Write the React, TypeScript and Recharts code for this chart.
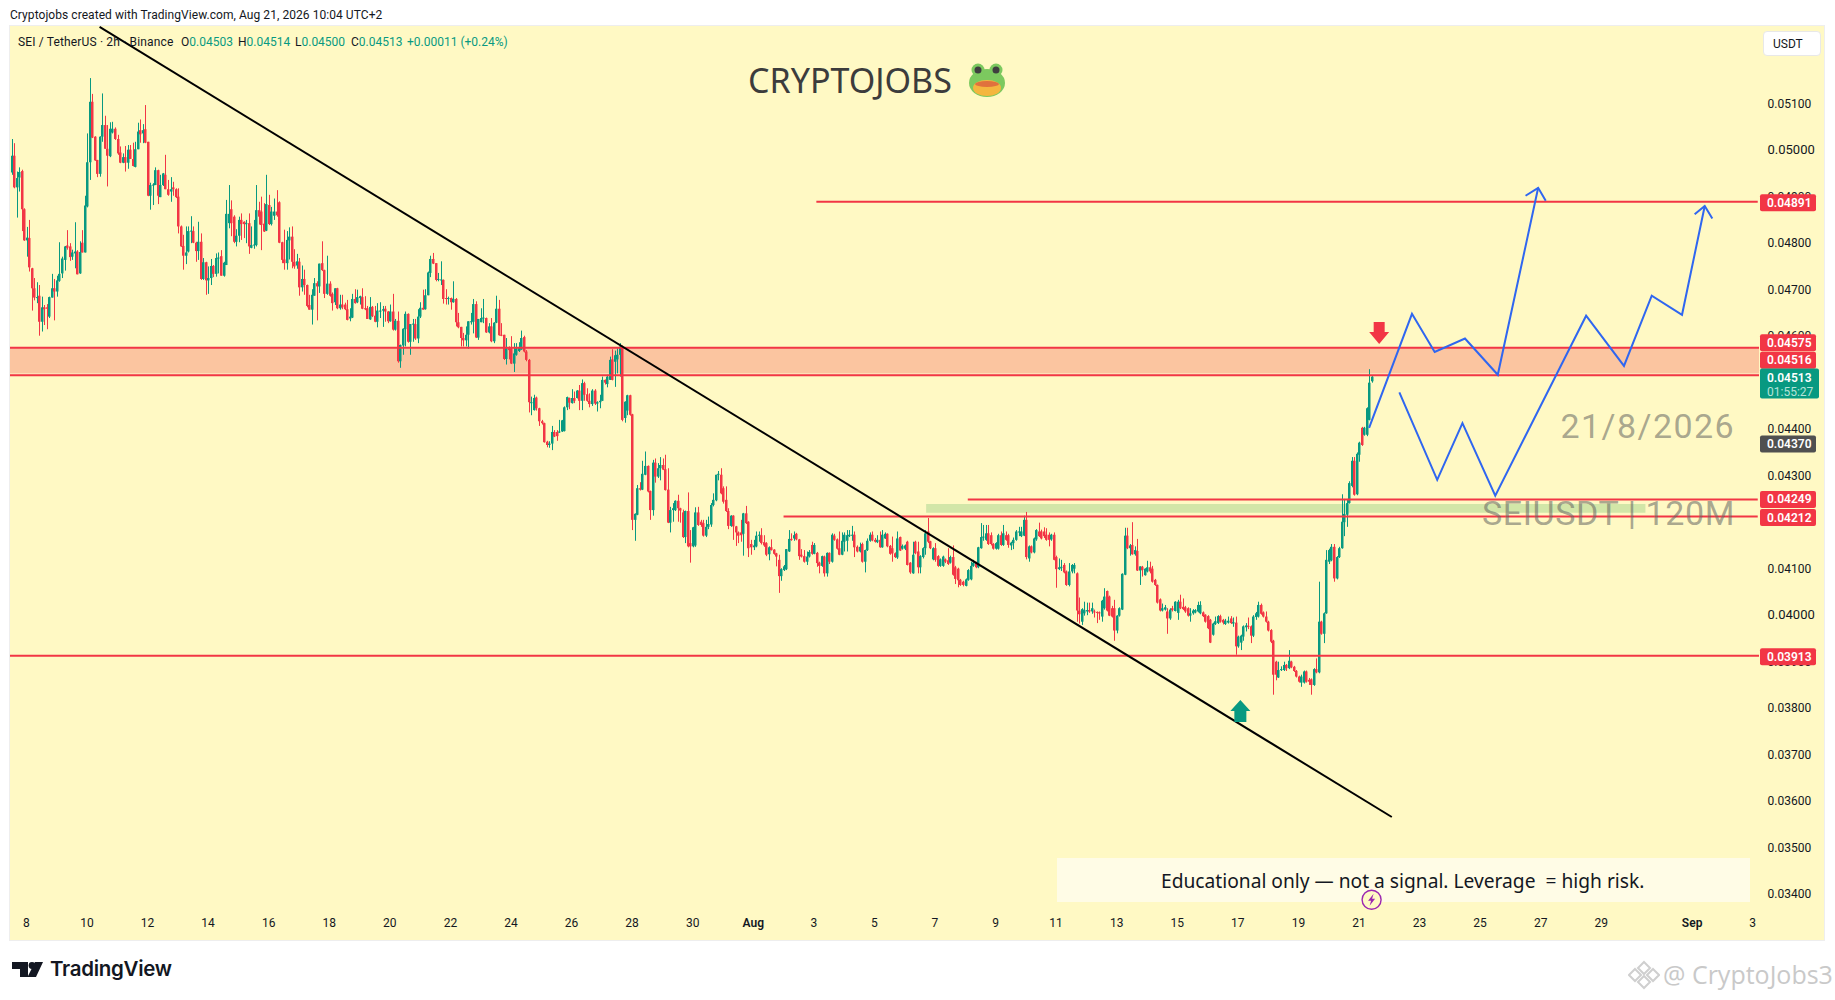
import { Bar, ComposedChart, Line, ReferenceArea, ReferenceDot, ReferenceLine, XAxis, YAxis } from "recharts";

const UP = "#089981";
const DOWN = "#f23645";
const BLUE = "#2f66f0";
const FONT = "Roboto, sans-serif";

// all prices in 1/100000 of a USDT. each row: open, close, high, low
const candlesJul8 = [
  [4952,4988,5024,4947],[4988,4920,5015,4918],[4920,4940,4954,4855],[4941,4953,4963,4911],[4955,4873,4958,4826],[4873,4806,4875,4805],[4806,4812,4835,4771],[4811,4748,4850,4739],[4746,4703,4747,4655],[4703,4683,4725,4677],
  [4683,4684,4716,4671],[4687,4631,4710,4601],[4631,4662,4685,4610],[4662,4658,4667,4624],[4662,4659,4669,4615],[4642,4684,4685,4639],[4683,4703,4734,4683],[4703,4696,4723,4634],[4696,4720,4730,4685],[4719,4734,4802,4717],
  [4735,4767,4771,4725],[4764,4793,4794,4741],[4795,4790,4828,4786],[4793,4770,4800,4762],[4771,4780,4786,4764],[4778,4782,4845,4746],[4782,4733,4785,4733],[4735,4781,4804,4734],[4801,4780,4828,4780],[4780,4881,4902,4780],
  [4879,4974,5036,4877],[4974,5104,5155,4936],[5104,5027,5121,5026],[5029,4978,5030,4977],[4979,4949,4979,4942],[4949,5029,5030,4943],[5029,5054,5122,5018],[5054,5003,5074,5003],[5003,4988,5054,4922],[4987,5046,5060,4985],
  [5038,5046,5061,5036],[5046,5024,5049,5022],[5024,4993,5033,4990],[4995,4973,5008,4972],[4973,4985,4993,4972],[4985,4973,5009,4954],[4973,5001,5011,4960],[5001,4981,5011,4981],[4981,4966,5016,4965],[4964,5002,5018,4963],
  [5002,5040,5059,5002],[5043,5034,5066,5016],[5036,5043,5056,5015],[5045,5016,5097,5015],[5018,4902,5018,4901],[4902,4925,4930,4872],[4925,4926,4929,4882],[4925,4957,4963,4925],[4957,4902,4958,4884],[4899,4925,4947,4899],
  [4925,4950,4951,4923],[4947,4916,4990,4916],[4916,4904,4936,4902],[4911,4916,4942,4889],[4920,4916,4932,4902],[4916,4899,4918,4897],[4900,4836,4918,4821],[4836,4793,4838,4792],[4794,4773,4818,4743],[4773,4780,4836,4755],
  [4782,4826,4836,4780],[4826,4827,4858,4800],[4826,4801,4836,4800],[4801,4783,4803,4760],[4783,4803,4846,4764],[4803,4723,4821,4721],[4723,4759,4768,4721],[4759,4720,4760,4689],[4720,4725,4750,4691],[4725,4751,4766,4710],
  [4751,4734,4753,4727],[4734,4768,4778,4728],[4768,4769,4780,4735],[4772,4730,4785,4730],[4730,4758,4760,4728],[4753,4863,4893,4753],[4843,4863,4925,4832],[4873,4843,4892,4815],[4857,4803,4860,4800],[4803,4816,4830,4793],
  [4816,4850,4857,4802],[4850,4841,4864,4807],[4846,4841,4847,4811],[4841,4843,4850,4800],[4843,4793,4864,4777],[4790,4796,4836,4789],[4796,4797,4850,4788],[4796,4871,4925,4793],[4871,4857,4889,4840],[4868,4839,4900,4785],
  [4842,4825,4886,4824],[4827,4884,4947,4826],[4882,4841,4904,4839],[4841,4868,4878,4838],[4859,4868,4896,4850],[4868,4860,4914,4857],[4888,4801,4890,4800],[4802,4764,4803,4757],[4765,4757,4829,4743],[4757,4807,4826,4743],
];
const candlesJul17 = [
  [4806,4814,4834,4765],[4814,4760,4836,4746],[4760,4750,4787,4745],[4752,4761,4777,4745],[4760,4705,4768,4687],[4705,4723,4752,4696],[4723,4710,4743,4689],[4710,4665,4711,4662],[4667,4657,4689,4657],[4657,4689,4701,4625],
  [4687,4714,4725,4687],[4714,4707,4718,4634],[4707,4756,4756,4693],[4757,4742,4804,4740],[4742,4691,4743,4682],[4691,4713,4773,4689],[4713,4687,4718,4685],[4691,4671,4694,4655],[4673,4703,4703,4667],[4703,4660,4704,4658],
  [4660,4668,4689,4657],[4668,4662,4689,4658],[4668,4658,4672,4656],[4658,4635,4678,4634],[4638,4642,4660,4632],[4640,4680,4691,4639],[4680,4671,4701,4670],[4673,4684,4700,4671],[4682,4686,4687,4668],[4684,4659,4703,4658],
  [4660,4658,4686,4656],[4660,4637,4665,4637],[4636,4663,4684,4635],[4663,4643,4665,4641],[4644,4631,4665,4630],[4631,4655,4671,4619],[4655,4655,4673,4639],[4655,4658,4665,4620],[4659,4653,4665,4631],[4653,4632,4654,4628],
  [4632,4653,4668,4631],[4653,4614,4691,4612],[4614,4633,4637,4612],[4633,4546,4653,4543],[4546,4581,4582,4532],[4580,4616,4617,4560],[4615,4648,4653,4578],[4648,4588,4649,4586],[4588,4626,4626,4560],[4625,4627,4637,4588],
  [4626,4595,4637,4592],[4595,4642,4658,4585],[4642,4661,4673,4639],[4661,4657,4700,4657],[4658,4688,4701,4657],[4688,4737,4739,4688],[4736,4766,4773,4727],[4766,4756,4779,4755],[4757,4721,4757,4718],[4721,4723,4736,4718],
  [4720,4722,4761,4710],[4721,4680,4722,4670],[4682,4680,4701,4668],[4680,4682,4685,4668],[4682,4673,4683,4657],[4673,4680,4718,4672],[4680,4630,4682,4621],[4630,4619,4650,4617],[4620,4596,4620,4578],[4596,4591,4607,4578],
  [4591,4603,4621,4578],[4603,4632,4632,4573],[4632,4632,4650,4625],[4631,4669,4680,4606],[4669,4597,4675,4596],[4597,4637,4637,4592],[4630,4639,4660,4630],[4638,4640,4680,4628],[4639,4608,4640,4607],[4608,4621,4628,4606],
  [4621,4589,4639,4587],[4589,4629,4630,4585],[4629,4659,4687,4628],[4659,4602,4678,4601],[4603,4601,4628,4600],[4603,4551,4603,4549],[4551,4574,4596,4539],[4574,4570,4578,4550],[4574,4541,4600,4540],[4541,4563,4585,4523],
  [4560,4574,4585,4558],[4568,4576,4587,4566],[4571,4596,4612,4571],[4598,4567,4601,4565],[4567,4549,4570,4546],[4549,4458,4551,4436],[4458,4458,4470,4430],[4441,4467,4474,4440],[4468,4445,4470,4440],[4445,4417,4446,4407],
  [4417,4413,4420,4410],[4413,4372,4414,4371],[4373,4366,4375,4361],[4366,4369,4374,4360],[4369,4394,4407,4355],[4394,4384,4398,4383],[4394,4385,4398,4375],[4393,4395,4420,4392],
];
const candlesJul26 = [
  [4395,4419,4420,4394],[4396,4447,4449,4395],[4447,4469,4470,4441],[4467,4457,4468,4443],[4456,4467,4486,4455],[4467,4461,4481,4456],[4467,4483,4484,4466],[4483,4461,4495,4441],[4461,4499,4507,4441],[4499,4474,4502,4461],
  [4475,4461,4488,4459],[4461,4454,4477,4447],[4454,4483,4486,4450],[4483,4455,4486,4452],[4455,4458,4460,4438],[4458,4461,4474,4445],[4461,4506,4513,4461],[4506,4500,4507,4496],[4497,4513,4517,4490],[4506,4549,4556,4506],
  [4550,4506,4572,4505],[4545,4559,4569,4491],[4550,4560,4574,4520],[4560,4578,4585,4513],[4577,4420,4580,4417],[4424,4459,4460,4414],[4440,4473,4474,4430],[4473,4431,4474,4429],[4432,4205,4433,4183],[4205,4218,4219,4160],
  [4216,4273,4280,4215],[4273,4270,4286,4268],[4270,4304,4332,4269],[4302,4321,4352,4301],[4321,4266,4322,4264],[4267,4226,4268,4205],[4226,4328,4334,4214],[4328,4298,4337,4285],[4298,4316,4327,4295],[4316,4323,4340,4290],
  [4323,4313,4337,4312],[4314,4269,4345,4268],[4270,4199,4316,4198],[4199,4226,4233,4178],[4226,4230,4241,4201],[4226,4246,4247,4224],[4246,4230,4259,4201],[4230,4225,4231,4199],[4221,4168,4227,4166],[4168,4224,4225,4155],
  [4224,4148,4264,4146],[4155,4148,4183,4113],[4148,4189,4190,4146],[4150,4221,4232,4147],[4221,4194,4233,4192],[4201,4194,4205,4190],[4198,4171,4205,4169],[4171,4190,4205,4168],[4190,4196,4212,4185],[4195,4237,4241,4190],
  [4237,4248,4262,4234],[4247,4302,4302,4245],[4302,4304,4310,4290],[4302,4262,4316,4260],[4273,4244,4277,4240],[4248,4224,4277,4222],[4224,4192,4230,4185],[4192,4214,4215,4190],[4214,4191,4215,4162],[4191,4178,4192,4149],
  [4178,4171,4180,4155],[4178,4172,4205,4158],[4175,4219,4220,4128],[4219,4198,4235,4196],[4201,4144,4202,4125],[4153,4146,4162,4130],[4146,4150,4162,4140],[4148,4171,4180,4146],[4171,4173,4180,4158],[4172,4155,4187,4152],
  [4157,4150,4172,4147],[4155,4130,4157,4127],[4131,4146,4148,4118],[4146,4140,4163,4139],[4141,4132,4142,4130],[4133,4126,4134,4105],[4119,4084,4130,4048],[4084,4099,4101,4074],[4097,4105,4108,4095],[4099,4142,4142,4097],
  [4137,4164,4183,4136],[4164,4163,4176,4160],[4165,4172,4180,4160],[4175,4163,4177,4161],[4163,4127,4164,4119],[4130,4126,4142,4124],[4127,4115,4140,4113],[4115,4126,4137,4108],[4126,4136,4140,4124],[4151,4132,4158,4130],
  [4132,4151,4155,4131],[4134,4112,4136,4104],[4113,4106,4115,4090],
];
const candlesAug4 = [
  [4106,4127,4128,4104],[4126,4090,4128,4083],[4090,4134,4135,4083],[4134,4115,4135,4110],[4115,4173,4176,4113],[4171,4162,4175,4160],[4163,4143,4165,4141],[4144,4130,4180,4129],[4130,4160,4178,4129],[4158,4173,4178,4137],
  [4160,4172,4183,4137],[4170,4173,4183,4168],[4172,4173,4192,4160],[4173,4146,4180,4125],[4147,4137,4150,4135],[4137,4147,4156,4135],[4153,4115,4156,4113],[4115,4140,4141,4092],[4140,4160,4165,4138],[4160,4173,4178,4158],
  [4173,4161,4180,4159],[4162,4158,4166,4156],[4157,4162,4172,4155],[4162,4146,4180,4145],[4146,4173,4183,4145],[4165,4175,4178,4164],[4175,4148,4176,4146],[4149,4132,4151,4130],[4144,4133,4169,4115],[4133,4125,4135,4123],
  [4124,4165,4180,4121],[4168,4139,4169,4138],[4143,4149,4152,4141],[4143,4150,4152,4140],[4158,4108,4160,4107],[4113,4092,4114,4089],[4090,4130,4158,4089],[4158,4133,4160,4131],[4137,4103,4158,4090],[4103,4127,4129,4090],
  [4125,4144,4146,4122],[4144,4176,4183,4130],[4180,4158,4209,4155],[4159,4144,4160,4142],[4120,4144,4146,4118],[4144,4119,4155,4115],[4127,4106,4129,4104],[4106,4120,4122,4104],[4106,4126,4128,4104],[4120,4115,4122,4112],
  [4118,4110,4144,4108],[4113,4125,4128,4111],[4125,4087,4150,4085],[4103,4078,4106,4067],[4100,4075,4102,4060],[4076,4065,4078,4063],[4072,4065,4074,4062],[4063,4077,4079,4062],[4076,4097,4099,4074],[4077,4106,4115,4075],
  [4106,4113,4119,4104],[4113,4103,4115,4101],[4103,4146,4147,4101],[4144,4168,4198,4143],[4168,4169,4194,4160],[4162,4176,4194,4160],[4176,4153,4194,4151],[4172,4153,4178,4150],[4153,4143,4155,4141],[4143,4155,4157,4141],
  [4143,4172,4175,4141],[4172,4151,4180,4149],[4151,4176,4194,4149],[4172,4162,4180,4160],[4172,4151,4175,4145],[4150,4156,4158,4140],[4155,4162,4167,4142],[4162,4180,4183,4160],[4179,4180,4190,4170],[4170,4180,4190,4168],
  [4171,4205,4214,4170],[4205,4125,4222,4120],[4122,4148,4150,4115],[4148,4135,4150,4133],[4135,4165,4167,4133],[4163,4183,4185,4160],[4180,4170,4199,4168],[4180,4165,4184,4163],[4180,4170,4189,4166],[4173,4162,4187,4160],
  [4173,4162,4178,4148],[4163,4173,4175,4160],[4173,4119,4178,4118],[4125,4099,4128,4059],[4099,4103,4122,4097],[4102,4104,4119,4095],[4108,4092,4112,4090],[4094,4065,4096,4063],[4065,4094,4112,4062],[4094,4108,4110,4090],
  [4100,4108,4112,4090],[4090,4010,4092,3986],[4010,4002,4038,3982],[3986,4013,4015,3979],[4004,4011,4029,3999],[4008,4011,4027,4000],[4011,4008,4027,4005],[4008,4015,4027,4003],[4008,4006,4012,3995],[4007,4005,4008,3983],
  [4006,4005,4008,3990],
];
const candlesAug13 = [
  [3997,4031,4033,3986],[4015,4040,4058,4012],[4052,4010,4053,4008],[4040,3999,4042,3998],[4015,3997,4020,3995],[4015,3967,4033,3945],[3967,3999,4000,3961],[3999,4015,4017,3997],[4012,4089,4090,4011],[4087,4171,4188,4086],
  [4171,4144,4188,4142],[4144,4150,4153,4128],[4151,4131,4200,4130],[4131,4140,4148,4128],[4138,4096,4164,4095],[4096,4105,4105,4065],[4104,4097,4106,4083],[4086,4100,4101,4085],[4094,4103,4117,4092],[4103,4094,4115,4090],
  [4100,4072,4106,4070],[4076,4065,4078,4063],[4065,4027,4066,4025],[4034,4010,4036,4008],[4010,4015,4025,4008],[4012,4017,4022,4010],[4008,3993,4015,3960],[3993,4012,4015,3990],[4015,4011,4020,4008],[4009,4029,4030,4008],
  [4005,4029,4033,3990],[4029,4015,4044,4013],[4018,4013,4036,4011],[4017,4008,4020,4005],[4015,3999,4017,3997],[3999,4004,4015,3986],[4004,4010,4013,4001],[4006,4011,4013,4004],[4008,4022,4029,4006],[4004,4022,4030,4002],
  [4006,3998,4008,3996],[4001,3986,4002,3984],[3998,3972,4000,3970],[3990,3941,3992,3940],[3958,3982,3984,3956],[3981,3987,3997,3979],[3983,3998,4000,3981],[3998,3986,4001,3984],[3990,3984,3992,3980],[3981,3988,3992,3979],
  [3984,3988,3997,3982],[3993,3983,3998,3981],[3982,3985,3995,3975],[3984,3933,3997,3915],[3933,3954,3956,3930],[3941,3956,3958,3925],[3954,3976,3978,3945],[3974,3978,3983,3965],[3977,3975,3995,3970],[3976,3956,3978,3940],
  [3956,3997,4000,3953],[3996,4004,4007,3990],[3997,4022,4029,3995],[4022,4003,4025,4001],[4006,3997,4008,3995],[3997,3986,4008,3984],[3986,3967,3988,3965],[3968,3943,3970,3940],[3945,3872,3947,3829],[3900,3872,3902,3860],
  [3866,3882,3900,3865],[3882,3884,3890,3880],[3882,3893,3900,3880],[3893,3886,3895,3880],[3886,3902,3925,3884],[3900,3888,3902,3886],[3889,3880,3891,3878],[3880,3868,3882,3866],[3868,3857,3870,3855],[3855,3868,3872,3846],
  [3855,3879,3881,3853],[3879,3857,3881,3855],[3861,3857,3865,3850],[3862,3850,3864,3829],[3850,3884,3886,3848],[3884,3877,3907,3875],[3877,3986,4072,3875],[3986,3960,3988,3958],[3960,4004,4006,3940],[4004,4119,4140,4003],
  [4115,4140,4143,4110],[4118,4147,4153,4116],[4147,4079,4153,4072],[4079,4125,4127,4077],[4125,4144,4147,4123],[4144,4201,4260,4143],[4200,4218,4250,4170],[4216,4241,4250,4190],[4241,4284,4288,4240],[4278,4332,4340,4275],
  [4332,4259,4340,4257],[4260,4347,4350,4258],[4345,4371,4373,4330],[4403,4366,4405,4364],[4388,4403,4405,4386],[4388,4445,4447,4385],[4420,4500,4529,4419],[4503,4513,4514,4500],
];

const yTicks = [3400,3500,3600,3700,3800,3900,4000,4100,4200,4300,4400,4500,4600,4700,4800,4900,5000,5100];
const boldTicks = [4000, 5000];
const tickBars = [6,30,54,78,102,126,150,174,198,222,246,270,294,318,342,366,390,414,438,462,486,510,534,558,582,606,630,666,690];
const tickLabels = ["8","10","12","14","16","18","20","22","24","26","28","30","Aug","3","5","7","9","11","13","15","17","19","21","23","25","27","29","Sep","3"];

const levelsFull = [4575, 4516, 3913];
const levelsFrom = [[4889, 319], [4249, 379], [4212, 306]];

const forecastABars = [538, 555, 564, 576, 589, 605];
const forecastAPrices = [4403, 4648, 4566, 4595, 4517, 4919];
const headABars = [600, 605, 608];
const headAPrices = [4902, 4919, 4891];
const forecastBBars = [550, 565, 575, 588, 624, 639, 650, 662, 671];
const forecastBPrices = [4479, 4291, 4413, 4257, 4644, 4536, 4687, 4646, 4880];
const headBBars = [667, 671, 674];
const headBPrices = [4862, 4880, 4853];

const trendBars = [35, 547];
const trendPrices = [5265, 3566];

const priceTags = [
  { price: 4889, text: "0.04891", color: DOWN, shift: 1 },
  { price: 4575, text: "0.04575", color: DOWN, shift: -5 },
  { price: 4516, text: "0.04516", color: DOWN, shift: -15 },
  { price: 4370, text: "0.04370", color: "#505050", shift: 1 },
  { price: 4249, text: "0.04249", color: DOWN, shift: 0 },
  { price: 4212, text: "0.04212", color: DOWN, shift: 1 },
  { price: 3913, text: "0.03913", color: DOWN, shift: 1 },
];

const BAR_COUNT = 693;
const Y_DOMAIN = [3366, 5267];
const candles = [...candlesJul8, ...candlesJul17, ...candlesJul26, ...candlesAug4, ...candlesAug13];

const rows: any[] = Array.from({ length: BAR_COUNT }, (_, bar) => {
  const c = candles[bar];
  return c ? { bar, o: c[0], c: c[1], range: [c[3], c[2]] } : { bar };
});
const fillSeries = (key: string, bars: number[], prices: number[]) => {
  bars.forEach((b, i) => { rows[b][key] = prices[i]; });
};
fillSeries("forecastA", forecastABars, forecastAPrices);
fillSeries("headA", headABars, headAPrices);
fillSeries("forecastB", forecastBBars, forecastBPrices);
fillSeries("headB", headBBars, headBPrices);

const fmt = (v: number) => (v / 100000).toFixed(5);

function Candle(props: any) {
  const { x, y, width, height, payload } = props;
  if (!payload || !payload.range || !height) return null;
  const [low, high] = payload.range;
  const h = Math.abs(height);
  const perUnit = h / (high - low || 1);
  const cx = Math.round(x + width / 2);
  const top = y + (high - Math.max(payload.o, payload.c)) * perUnit;
  const bodyH = Math.max(1, Math.abs(payload.o - payload.c) * perUnit);
  const color = payload.c >= payload.o ? UP : DOWN;
  return (
    <g>
      <rect x={cx} y={y} width={1} height={h} fill={color} />
      <rect x={cx - 1} y={top} width={2.5} height={bodyH} fill={color} />
    </g>
  );
}

function PriceTick({ x, y, payload }: any) {
  const bold = boldTicks.includes(payload.value);
  return (
    <text x={x + 8.5} y={y + 4} fontSize={bold ? 13 : 12} fontFamily={FONT} fill="#131722">
      {fmt(payload.value)}
    </text>
  );
}

function TimeTick({ x, y, payload }: any) {
  const label = tickLabels[tickBars.indexOf(payload.value)];
  const bold = label === "Aug" || label === "Sep";
  return (
    <text x={x} y={y + 9} textAnchor="middle" fontSize={12} fontFamily={FONT} fontWeight={bold ? 600 : 400} fill="#131722">
      {label}
    </text>
  );
}

function PriceTag({ viewBox, text, color, shift }: any) {
  const left = viewBox.x + viewBox.width + 1;
  const y = viewBox.y + shift;
  return (
    <g>
      <rect x={left} y={y - 8.5} width={56} height={17} rx={2} fill={color} />
      <text x={left + 7} y={y + 4} fontSize={12} fontWeight={600} fontFamily={FONT} fill="#fff">{text}</text>
    </g>
  );
}

function LastPriceTag({ viewBox }: any) {
  const left = viewBox.x + viewBox.width + 1;
  const y = viewBox.y;
  return (
    <g>
      <rect x={left} y={y - 8} width={59} height={30} rx={2} fill={UP} />
      <text x={left + 7} y={y + 5} fontSize={12} fontWeight={600} fontFamily={FONT} fill="#fff">{fmt(4513)}</text>
      <text x={left + 7} y={y + 19} fontSize={12} fontFamily={FONT} fill="#b5e3d8">01:55:27</text>
    </g>
  );
}

const upArrow = ({ cx, cy }: any) => (
  <polygon
    points={`${cx},${cy - 11} ${cx + 10},${cy} ${cx + 6},${cy} ${cx + 6},${cy + 11} ${cx - 6},${cy + 11} ${cx - 6},${cy} ${cx - 10},${cy}`}
    fill={UP}
  />
);
const downArrow = ({ cx, cy }: any) => (
  <polygon
    points={`${cx},${cy + 11} ${cx + 10},${cy - 1} ${cx + 5.5},${cy - 1} ${cx + 5.5},${cy - 11} ${cx - 5.5},${cy - 11} ${cx - 5.5},${cy - 1} ${cx - 10},${cy - 1}`}
    fill={DOWN}
  />
);
const boltMark = ({ cx, cy }: any) => (
  <g>
    <circle cx={cx} cy={cy} r={9.5} fill="#fff9c4" stroke="#9c27b0" strokeWidth={1.4} />
    <polygon
      points={`${cx + 2},${cy - 6} ${cx - 3.5},${cy + 1} ${cx - 0.5},${cy + 1} ${cx - 2},${cy + 6} ${cx + 3.5},${cy - 1} ${cx + 0.5},${cy - 1}`}
      fill="#9c27b0"
    />
  </g>
);

function at(left: number, top: number, style: any): any {
  return { position: "absolute", left, top, whiteSpace: "pre", fontFamily: FONT, lineHeight: 1, ...style };
}

function Frog() {
  return (
    <svg style={{ position: "absolute", left: 968, top: 62 }} width={38} height={36} viewBox="0 0 38 36">
      <ellipse cx="19" cy="21" rx="18" ry="14" fill="#7cc95f" />
      <circle cx="10" cy="8" r="6.5" fill="#7cc95f" />
      <circle cx="28" cy="8" r="6.5" fill="#7cc95f" />
      <circle cx="10" cy="8" r="3.5" fill="#3f3f3f" />
      <circle cx="28" cy="8" r="3.5" fill="#3f3f3f" />
      <ellipse cx="19" cy="26" rx="14" ry="8" fill="#f4b63f" />
      <ellipse cx="19" cy="22" rx="12" ry="3" fill="#e0713d" />
    </svg>
  );
}

export default function App() {
  return (
    <div style={{ position: "absolute", left: 0, top: 0, width: 1835, height: 1000, background: "#fff", overflow: "hidden" }}>
      <div style={{ position: "absolute", left: 10, top: 26, width: 1814, height: 914, background: "#fff9c4", boxShadow: "0 0 0 1px #eeeeee" }} />
      <div style={{ position: "absolute", left: 1057, top: 858, width: 693, height: 44, background: "#fffce6" }} />

      <div style={{ position: "absolute", left: 0, top: 0 }}>
        <ComposedChart
          width={1835}
          height={1000}
          data={rows}
          margin={{ top: 26, right: 11, bottom: 60, left: 10 }}
          barCategoryGap={0}
        >
          <XAxis dataKey="bar" ticks={tickBars} interval={0} height={30} axisLine={false} tickLine={false} tick={<TimeTick />} />
          <YAxis
            orientation="right"
            width={65}
            domain={Y_DOMAIN}
            ticks={yTicks}
            interval={0}
            axisLine={false}
            tickLine={false}
            tickSize={0}
            tickMargin={0}
            tick={<PriceTick />}
          />
          <ReferenceArea y1={4521} y2={4575} fill="#fbc5a0" fillOpacity={1} stroke="none" />
          <ReferenceArea y1={4517} y2={4521} fill="#fde0b8" fillOpacity={1} stroke="none" />
          <ReferenceArea x1={363} x2={647} y1={4220} y2={4239} fill="#d2e6a8" fillOpacity={1} stroke="none" />
          <Bar dataKey="range" shape={<Candle />} isAnimationActive={false} />

          {levelsFull.map((p) => (
            <ReferenceLine key={p} y={p} stroke={DOWN} strokeWidth={2} />
          ))}
          {levelsFrom.map(([p, from]) => (
            <ReferenceLine key={p} segment={[{ x: from, y: p }, { x: BAR_COUNT - 1, y: p }]} stroke={DOWN} strokeWidth={2} />
          ))}
          <ReferenceLine
            segment={[{ x: trendBars[0], y: trendPrices[0] }, { x: trendBars[1], y: trendPrices[1] }]}
            stroke="#000"
            strokeWidth={2}
          />

          <Line dataKey="forecastA" stroke={BLUE} strokeWidth={2} dot={false} connectNulls isAnimationActive={false} />
          <Line dataKey="headA" stroke={BLUE} strokeWidth={2} dot={false} connectNulls isAnimationActive={false} />
          <Line dataKey="forecastB" stroke={BLUE} strokeWidth={2} dot={false} connectNulls isAnimationActive={false} />
          <Line dataKey="headB" stroke={BLUE} strokeWidth={2} dot={false} connectNulls isAnimationActive={false} />

          <ReferenceDot x={542} y={4607} shape={downArrow} />
          <ReferenceDot x={487} y={3794} shape={upArrow} />
          <ReferenceDot x={539} y={3388} shape={boltMark} />
        </ComposedChart>
      </div>

      {/* second chart on top so the price tags sit over the axis ticks */}
      <div style={{ position: "absolute", left: 0, top: 0 }}>
        <ComposedChart
          width={1835}
          height={1000}
          data={rows}
          margin={{ top: 26, right: 11, bottom: 60, left: 10 }}
        >
          <XAxis dataKey="bar" height={30} axisLine={false} tickLine={false} tick={false} />
          <YAxis orientation="right" width={65} domain={Y_DOMAIN} axisLine={false} tickLine={false} tick={false} />
          <Line dataKey="forecastA" stroke="none" dot={false} connectNulls isAnimationActive={false} />
          {priceTags.map((t) => (
            <ReferenceLine
              key={t.text}
              y={t.price}
              stroke="none"
              label={<PriceTag text={t.text} color={t.color} shift={t.shift} />}
            />
          ))}
          <ReferenceLine y={4513} stroke="none" label={<LastPriceTag />} />
        </ComposedChart>
      </div>

      <div style={at(10, 9, { fontSize: 12, letterSpacing: 0.06, color: "#131722" })}>Cryptojobs created with TradingView.com, Aug 21, 2026 10:04 UTC+2</div>
      <div style={at(18, 36, { fontSize: 12, letterSpacing: 0.15, color: "#131722" })}>SEI / TetherUS · 2h · Binance</div>
      {[[181, "O", "0.04503"], [238, "H", "0.04514"], [295, "L", "0.04500"], [351, "C", "0.04513"]].map(([left, k, v]: any) => (
        <div key={k} style={at(left, 36, { fontSize: 12, color: "#131722" })}>
          {k}<span style={{ color: UP }}>{v}</span>
        </div>
      ))}
      <div style={at(407, 36, { fontSize: 12, color: UP })}>+0.00011 (+0.24%)</div>

      <div style={at(748, 63, { fontSize: 34, color: "#3c3c3c", fontFamily: "'Noto Sans', sans-serif" })}>CRYPTOJOBS</div>
      <Frog />

      <div style={{ ...at(1763, 31, { fontSize: 12, color: "#131722" }), width: 58, height: 25, background: "#fff", borderRadius: 4, border: "1px solid #e8e8e8", boxSizing: "border-box", paddingLeft: 9, paddingTop: 6 }}>USDT</div>

      <div style={{ ...at(1500, 409, { fontSize: 34, letterSpacing: 1.4, color: "rgba(105,105,100,0.58)" }), width: 235, textAlign: "right" }}>21/8/2026</div>
      <div style={{ ...at(1400, 496, { fontSize: 34, letterSpacing: 0.6, color: "rgba(105,105,100,0.58)" }), width: 335, textAlign: "right" }}>SEIUSDT | 120M</div>

      <div style={at(1161, 871, { fontSize: 19.2, color: "#131722", fontFamily: "'Noto Sans', sans-serif" })}>Educational only — not a signal. Leverage  = high risk.</div>

      <svg style={{ position: "absolute", left: 12, top: 961 }} width={32} height={17} viewBox="0 0 32 17">
        <polygon points="0,1 16,1 16,16 8,16 8,8 0,8" fill="#131722" />
        <circle cx="20" cy="4.5" r="3.4" fill="#131722" />
        <polygon points="23,1 31,1 24,16 15.5,16" fill="#131722" />
      </svg>
      <div style={at(50, 959, { fontSize: 20.5, fontWeight: 600, color: "#131722", fontFamily: "Inter, sans-serif", letterSpacing: -0.3 })}>TradingView</div>

      <svg style={{ position: "absolute", left: 1628, top: 960 }} width={32} height={30} viewBox="0 0 32 30" fill="none" stroke="#cfcfcf" strokeWidth="2">
        <polygon points="16,2 22,8 16,14 10,8" />
        <polygon points="7,9 13,15 7,21 1,15" />
        <polygon points="25,9 31,15 25,21 19,15" />
        <polygon points="16,16 22,22 16,28 10,22" />
      </svg>
      <div style={at(1663, 962, { fontSize: 25, color: "#c9c9c9", fontFamily: "'Open Sans', sans-serif" })}>@ CryptoJobs3</div>
    </div>
  );
}
